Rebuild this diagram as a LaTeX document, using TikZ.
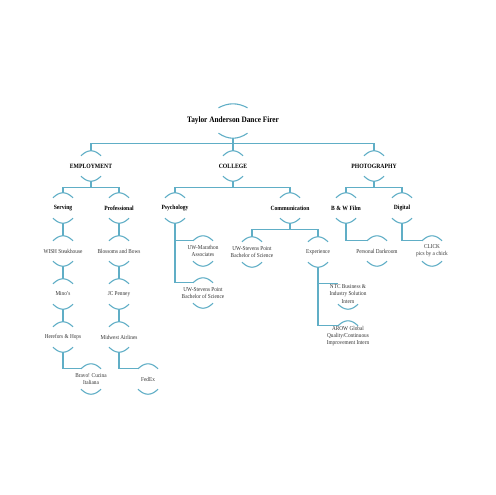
\documentclass[tikz,border=0pt]{standalone}
\usepackage{fontspec}
\setmainfont{Liberation Serif}[FakeStretch=0.88]
\definecolor{arcblue}{RGB}{96,174,198}
\tikzset{x=1pt, y=-1pt,
    every node/.style={align=center, inner sep=0pt, minimum width=20pt, minimum height=30pt},
    rootname/.style={font=\fontsize{8.3}{9}\selectfont\bfseries, minimum height=34pt},
    catname/.style={font=\fontsize{6.5}{7}\selectfont\bfseries},
    subname/.style={font=\fontsize{6.4}{7}\selectfont\bfseries},
    itemname/.style={font=\fontsize{6}{7.3}\selectfont, text=black!80},
    link/.style={draw=arcblue, line width=1.1pt},
    }

\begin{document}
\begin{tikzpicture}
	\useasboundingbox (0,0) rectangle (495,495);
	\node[rootname] (root) at (233,121) {Taylor Anderson Dance Firer};
	% first level
	\node[catname] (emp) at (91,166) {EMPLOYMENT};
	\node[catname] (col) at (233,166) {COLLEGE};
	\node[catname] (pho) at (374,166) {PHOTOGRAPHY};
	% second level
	\node[subname] (serv) at (63,208) {Serving};
	\node[subname] (prof) at (119,208) {Professional};
	\node[subname] (psych) at (175,208) {Psychology};
	\node[subname] (comm) at (290,208) {Communication};
	\node[subname] (bw) at (346,208) {B \& W Film};
	\node[subname] (dig) at (402,208) {Digital};
	% employment
	\node[itemname] (wish) at (63,251) {WISH Steakhouse};
	\node[itemname] (mino) at (63,294) {Mino's};
	\node[itemname] (here) at (63,337) {Herefors \& Hops};
	\node[itemname] (bravo) at (91,379) {Bravo! Cucina\\Italiana};
	\node[itemname] (bloss) at (119,251) {Blossoms and Bows};
	\node[itemname] (jcp) at (119,294) {JC Penney};
	\node[itemname] (mid) at (119,337) {Midwest Airlines};
	\node[itemname] (fedex) at (148,379) {FedEx};
	% college
	\node[itemname] (uwm) at (203,251) {UW-Marathon\\Associates};
	\node[itemname] (uwsp) at (203,293) {UW-Stevens Point\\Bachelor of Science};
	\node[itemname] (uwspc) at (252,252) {UW-Stevens Point\\Bachelor of Science};
	\node[itemname] (exp) at (318,252) {Experience};
	\node[itemname] (ntc) at (348,294) {NTC Business \&\\Industry Solution\\Intern};
	\node[itemname] (arow) at (348,336) {AROW Global\\Quality/Continuous\\Improvement Intern};
	% photography
	\node[itemname] (dark) at (377,251) {Personal Darkroom};
	\node[itemname] (click) at (432,251) {CLICK\\pics by a chick};

	% brackets
	\draw[link] ([shift={(-14.5,4)}]root.north) .. controls ([shift={(-4.8,-1.3)}]root.north) and ([shift={(4.8,-1.3)}]root.north) .. ([shift={(14.5,4)}]root.north);
	\draw[link] ([shift={(-14.5,-5)}]root.south) .. controls ([shift={(-4.8,1.7)}]root.south) and ([shift={(4.8,1.7)}]root.south) .. ([shift={(14.5,-5)}]root.south);
	\foreach \n in {emp,col,pho,serv,prof,psych,comm,bw,dig,wish,mino,here,bravo,bloss,jcp,mid,fedex,uwm,uwsp,uwspc,exp,arow,dark,click}
		\draw[link] ([shift={(-10,5)}]\n.north) .. controls ([shift={(-3.3,-1.7)}]\n.north) and ([shift={(3.3,-1.7)}]\n.north) .. ([shift={(10,5)}]\n.north);
	\foreach \n in {emp,col,pho,serv,prof,psych,comm,bw,dig,wish,mino,here,bravo,bloss,jcp,mid,fedex,uwm,uwsp,uwspc,exp,ntc,dark,click}
		\draw[link] ([shift={(-10,-5)}]\n.south) .. controls ([shift={(-3.3,1.7)}]\n.south) and ([shift={(3.3,1.7)}]\n.south) .. ([shift={(10,-5)}]\n.south);

	% connectors
	\foreach \c in {emp,col,pho}
		\draw[link] (root.south) -- ++(0,5) -| (\c.north);
	\foreach \c in {serv,prof}
		\draw[link] (emp.south) -- ++(0,6) -| (\c.north);
	\foreach \c in {psych,comm}
		\draw[link] (col.south) -- ++(0,6) -| (\c.north);
	\foreach \c in {bw,dig}
		\draw[link] (pho.south) -- ++(0,6) -| (\c.north);
	\foreach \c in {uwspc,exp}
		\draw[link] (comm.south) -- ++(0,6) -| (\c.north);
	\draw[link] (serv) -- (wish) -- (mino) -- (here);
	\draw[link] (prof) -- (bloss) -- (jcp) -- (mid);
	\draw[link] (here.south) |- ([shift={(-10,5)}]bravo.north);
	\draw[link] (mid.south) |- ([shift={(-10,5)}]fedex.north);
	\foreach \c in {uwm,uwsp}
		\draw[link] (psych.south) |- ([shift={(-10,5)}]\c.north);
	\foreach \c in {ntc,arow}
		\draw[link] (exp.south) |- ([shift={(-10,5)}]\c.north);
	\draw[link] (bw.south) |- ([shift={(-10,5)}]dark.north);
	\draw[link] (dig.south) |- ([shift={(-10,5)}]click.north);
\end{tikzpicture}
\end{document}
